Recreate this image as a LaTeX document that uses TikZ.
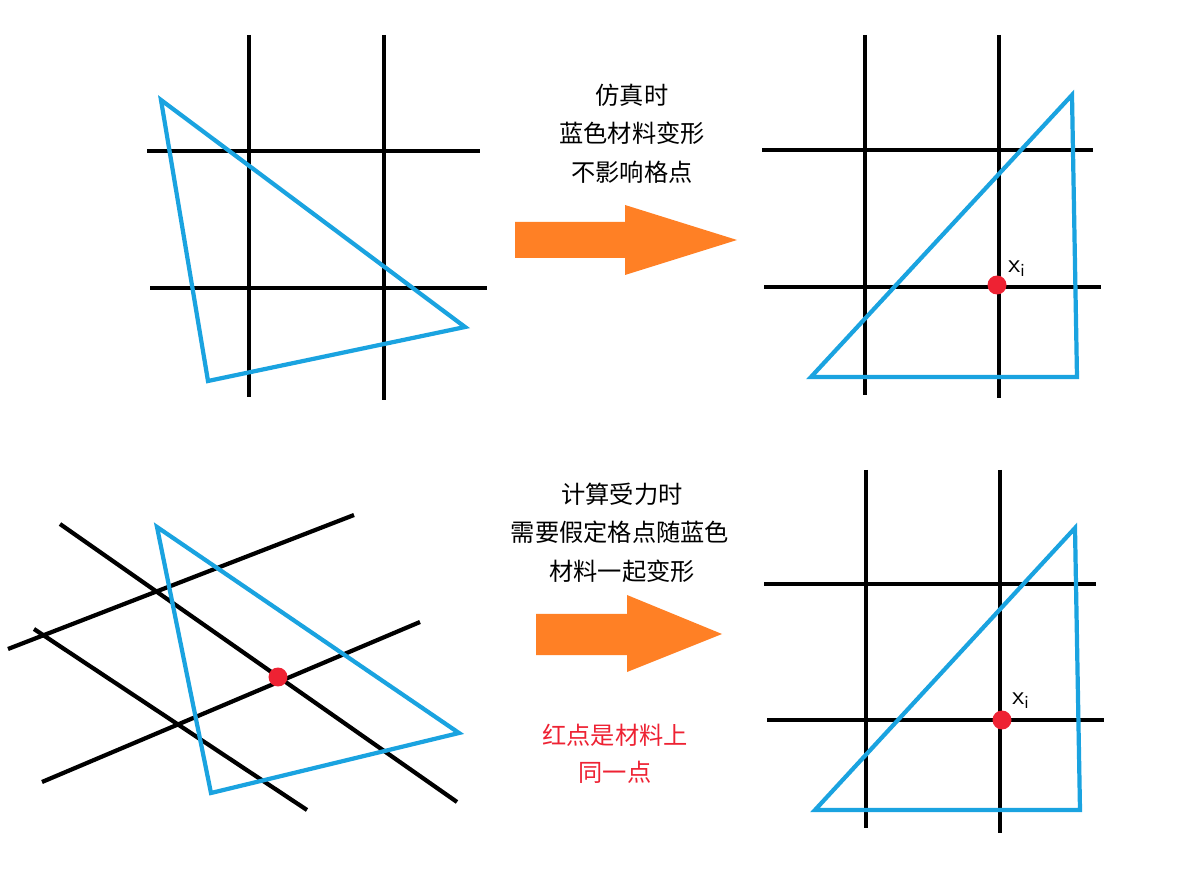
\documentclass[tikz,border=0pt]{standalone}
\usepackage{fontspec}
\newfontfamily\cjk{Noto Sans CJK SC}
\definecolor{mblue}{HTML}{1AA3E0}
\definecolor{morange}{HTML}{FF8025}
\definecolor{mred}{HTML}{EE2233}
\tikzset{gridl/.style={line width=2.4pt,black},tri/.style={line width=2.4pt,mblue,line join=miter},
dot/.style={circle,fill=mred,inner sep=0pt,minimum size=0.38cm},
lab/.style={font=\cjk\fontsize{13.8}{16}\selectfont,align=center},
xl/.style={font=\sffamily\fontsize{15}{17}\selectfont},
arr/.style={fill=morange}}
\begin{document}
\begin{tikzpicture}[x=0.02cm,y=-0.02cm]
\useasboundingbox[fill=white] (0,0) rectangle (1178,885);
% top-left
\draw[gridl] (249,35)--(249,397); \draw[gridl] (384,35)--(384,400);
\draw[gridl] (147,151)--(480,151); \draw[gridl] (150,288)--(487,288);
\draw[tri] (161,100)--(465,327)--(208,381)--cycle;
% top arrow
\fill[arr] (515,222)--(625,222)--(625,205)--(737,240)--(625,275)--(625,258)--(515,258)--cycle;
\node[lab] (t1) at (632,95) {仿真时};
\node[lab] (t2) at (632,133) {蓝色材料变形};
\node[lab] (t3) at (632,172) {不影响格点};
% top-right
\draw[gridl] (865,35)--(865,395); \draw[gridl] (999,35)--(999,398);
\draw[gridl] (762,150)--(1093,150); \draw[gridl] (764,287)--(1101,287);
\draw[tri] (811,377)--(1072,95)--(1077,377)--cycle;
\node[dot] (d1) at (997,285) {};
\node[xl] (x1) at (1017,269) {x\textsubscript{i}};
% bottom-left
\draw[gridl] (60,524)--(457,802); \draw[gridl] (34,629)--(307,810);
\draw[gridl] (8,649)--(354,515); \draw[gridl] (42,782)--(420,622);
\draw[tri] (157,527)--(459,733)--(211,793)--cycle;
\node[dot] (d2) at (278,677) {};
% bottom arrow
\fill[arr] (536,614)--(627,614)--(627,595)--(722,634)--(627,672)--(627,655)--(536,655)--cycle;
\node[lab] (b1) at (622,494) {计算受力时};
\node[lab] (b2) at (620,532) {需要假定格点随蓝色};
\node[lab] (b3) at (622,571) {材料一起变形};
\node[lab,text=mred] (r1) at (615,735) {红点是材料上};
\node[lab,text=mred] (r2) at (615,772) {同一点};
% bottom-right
\draw[gridl] (866,470)--(866,828); \draw[gridl] (1000,470)--(1000,833);
\draw[gridl] (764,584)--(1096,584); \draw[gridl] (767,720)--(1104,720);
\draw[tri] (815,810)--(1075,528)--(1080,810)--cycle;
\node[dot] (d3) at (1002,720) {};
\node[xl] (x2) at (1021,701) {x\textsubscript{i}};
\end{tikzpicture}
\end{document}
